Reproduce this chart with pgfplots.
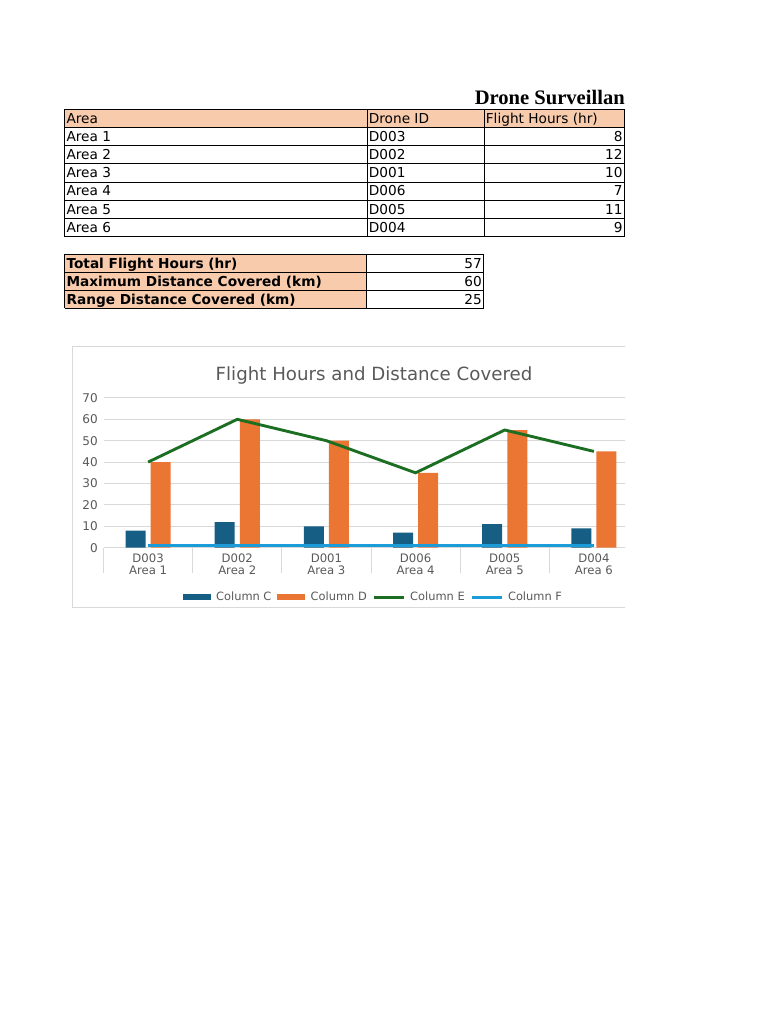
\documentclass[border=0pt]{standalone}
\usepackage{pgfplots}
\pgfplotsset{compat=1.18}
\usepackage{fontspec}
\setmainfont{DejaVu Sans}
\newfontfamily\headfont{Liberation Serif}

\definecolor{peach}{HTML}{F8CBAD}
\definecolor{colC}{HTML}{175E84}
\definecolor{colD}{HTML}{EB7533}
\definecolor{colE}{HTML}{1C6E22}
\definecolor{colF}{HTML}{1B9CD8}
\definecolor{txtgray}{HTML}{595959}
\definecolor{gridgray}{HTML}{D9D9D9}

\newcommand\cellfont{\fontsize{10.9}{13}\selectfont}

\begin{document}
\begin{tikzpicture}[x=0.797pt, y=-0.797pt]
\useasboundingbox (0,0) rectangle (768,1024);

% sheet heading (cut by the print area)
\node[anchor=base east, inner sep=0, font=\headfont\bfseries\fontsize{16.4}{19}\selectfont]
  at (625,104.3) {Drone Surveillan};

% ---- main table ----
\fill[peach] (64.5,109.3) rectangle (624,127.5);
\foreach \yy in {109.3,127.5,145.7,163.9,182.1,200.3,218.5,236.7}
  \draw[line width=0.8pt] (64.5,\yy) -- (624,\yy);
\foreach \xx in {64.5,367,484,624}
  \draw[line width=0.8pt] (\xx,109.3) -- (\xx,236.7);
\begin{scope}[every node/.style={inner sep=0, font=\cellfont}]
  \node[anchor=base west] at (66.3,123) {Area};
  \node[anchor=base west] at (368.6,123) {Drone ID};
  \node[anchor=base west] at (485.6,123) {Flight Hours (hr)};
  \foreach \r/\area/\id/\hrs in {1/Area 1/D003/8, 2/Area 2/D002/12, 3/Area 3/D001/10,
                                 4/Area 4/D006/7, 5/Area 5/D005/11, 6/Area 6/D004/9} {
    \pgfmathsetmacro\bl{123+18.2*\r}
    \node[anchor=base west] at (66.3,\bl) {\area};
    \node[anchor=base west] at (368.6,\bl) {\id};
    \node[anchor=base east] at (622.8,\bl) {\hrs};
  }
\end{scope}

% ---- summary table ----
\fill[peach] (64.5,254.3) rectangle (366.5,308.3);
\foreach \yy in {254.3,272.3,290.3,308.3}
  \draw[line width=0.8pt] (64.5,\yy) -- (483.5,\yy);
\foreach \xx in {64.5,366.5,483.5}
  \draw[line width=0.8pt] (\xx,254.3) -- (\xx,308.3);
\begin{scope}[every node/.style={inner sep=0, font=\cellfont}]
  \node[anchor=base west, font=\cellfont\bfseries] at (66.3,268) {Total Flight Hours (hr)};
  \node[anchor=base west, font=\cellfont\bfseries] at (66.3,286) {Maximum Distance Covered (km)};
  \node[anchor=base west, font=\cellfont\bfseries] at (66.3,304) {Range Distance Covered (km)};
  \node[anchor=base east] at (482,268) {57};
  \node[anchor=base east] at (482,286) {60};
  \node[anchor=base east] at (482,304) {25};
\end{scope}

% ---- chart ----
\coordinate (plotSW) at (103.5,547.7);
\begin{scope}
\clip (0,0) rectangle (625,1024);
\draw[gridgray, line width=0.8pt] (700,346.5) -- (72.5,346.5) -- (72.5,607.5) -- (700,607.5);
\node[anchor=base, inner sep=0, text=txtgray, font=\fontsize{14.5}{17}\selectfont]
  at (374,380) {Flight Hours and Distance Covered};

\begin{axis}[
  at={(plotSW)}, anchor=south west, scale only axis,
  width=426.4pt, height=119.4pt,
  xmin=-0.5, xmax=5.5, ymin=0, ymax=70,
  ytick={0,10,...,70},
  ymajorgrids, grid style={gridgray, line width=0.75pt},
  axis line style={draw=none},
  major tick length=0pt,
  tick pos=left,
  xtick={0,...,5},
  xticklabels={{D003\\Area 1},{D002\\Area 2},{D001\\Area 3},{D006\\Area 4},{D005\\Area 5},{D004\\Area 6}},
  xticklabel style={align=center, text=txtgray, font=\fontsize{9.3}{9.6}\selectfont, yshift=-1pt},
  yticklabel style={text=txtgray, font=\fontsize{9.6}{11}\selectfont, xshift=-1pt},
  extra x ticks={-0.5,0.5,1.5,2.5,3.5,4.5,5.5},
  extra x tick labels={},
  extra x tick style={major tick length=20pt, tick align=outside,
                      tick style={draw=gridgray, line width=0.75pt}},
  /pgf/number format/assume math mode=true,
  legend columns=4,
  legend style={at={(0.505,-0.332)}, anchor=center, draw=none, fill=none,
                font=\fontsize{9.1}{11}\selectfont, text=txtgray,
                /tikz/every even column/.append style={column sep=2.8pt},
                /tikz/every odd column/.append style={column sep=2.2pt}},
]
\addplot[ybar, bar width=15.9pt, bar shift=-10pt, fill=colC, draw=none,
  legend image code/.code={\fill[colC] (0pt,-2.4pt) rectangle (22.3pt,2.4pt);}]
  coordinates {(0,8) (1,12) (2,10) (3,7) (4,11) (5,9)};
\addlegendentry{Column C}
\addplot[ybar, bar width=15.9pt, bar shift=10pt, fill=colD, draw=none,
  legend image code/.code={\fill[colD] (0pt,-2.4pt) rectangle (22.3pt,2.4pt);}]
  coordinates {(0,40) (1,60) (2,50) (3,35) (4,55) (5,45)};
\addlegendentry{Column D}
\addplot[colE, line width=2.3pt, mark=none,
  legend image code/.code={\draw[colE, line width=2pt] (0pt,0pt) -- (23.5pt,0pt);}]
  coordinates {(0,40) (1,60) (2,50) (3,35) (4,55) (5,45)};
\addlegendentry{Column E}
\addplot[colF, line width=2.3pt, mark=none,
  legend image code/.code={\draw[colF, line width=2pt] (0pt,0pt) -- (23.5pt,0pt);}]
  coordinates {(0,1) (1,1) (2,1) (3,1) (4,1) (5,1)};
\addlegendentry{Column F}
\end{axis}
\end{scope}
\end{tikzpicture}
\end{document}
